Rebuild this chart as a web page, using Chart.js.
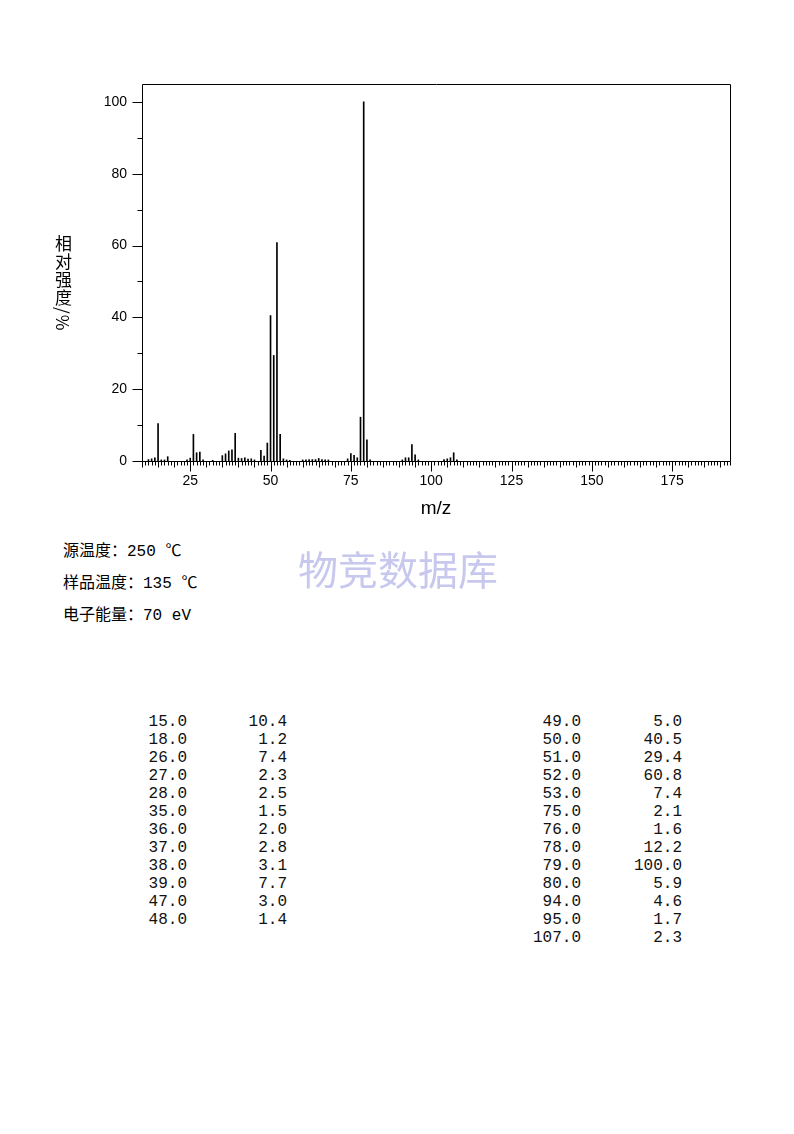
<!DOCTYPE html>
<html>
<head>
<meta charset="utf-8">
<script src="https://cdn.jsdelivr.net/npm/chart.js@4"></script>
<style>
  body { margin: 0; background: #fff; }
  #page { position: relative; width: 794px; height: 1134px; overflow: hidden; background: #fff; }
  #chartBox { position: absolute; left: 0; top: 0; width: 794px; height: 540px; }
  .ytitle { position: absolute; left: 55px; top: 235px; writing-mode: vertical-rl; font: 17px "Noto Sans CJK SC", sans-serif; line-height: 17px; letter-spacing: 1px; color: #000; }
  .info { position: absolute; left: 63px; font: 16px "Liberation Mono", "Noto Sans CJK SC", monospace; color: #000; line-height: 20px; }
  .mark { position: absolute; left: 298px; top: 543px; font: 40px "Noto Sans CJK SC", sans-serif; color: rgb(200, 200, 238); line-height: 50px; }
  .cell { position: absolute; font: 16px "Liberation Mono", monospace; line-height: 18px; text-align: right; color: #111; white-space: pre; }
</style>
</head>
<body>
<div id="page">
  <div id="chartBox"><canvas id="grafica"></canvas></div>
  <div class="ytitle">相对强度/%</div>
  <div class="info" style="top:542px">源温度：250 ℃</div>
  <div class="info" style="top:574px">样品温度：135 ℃</div>
  <div class="info" style="top:606px">电子能量：70 eV</div>
  <div class="mark">物竞数据库</div>
  <div id="tabla"></div>
</div>
<script>
// picos de la tabla (m/z, intensidad relativa)
var tablaMz = [15, 18, 26, 27, 28, 35, 36, 37, 38, 39, 47, 48,
               49, 50, 51, 52, 53, 75, 76, 78, 79, 80, 94, 95, 107];
var tablaInt = [10.4, 1.2, 7.4, 2.3, 2.5, 1.5, 2.0, 2.8, 3.1, 7.7, 3.0, 1.4,
                5.0, 40.5, 29.4, 60.8, 7.4, 2.1, 1.6, 12.2, 100.0, 5.9, 4.6, 1.7, 2.3];
// picos pequenos que solo salen en la grafica
var menoresMz = [12, 13, 14, 16, 17, 24, 25, 29, 32, 40, 41, 42, 43, 44, 45, 54, 55, 56,
                 60, 61, 62, 63, 64, 65, 66, 67, 68, 74, 77, 81, 91, 92, 93, 96, 104, 105, 106, 108];
var menoresInt = [0.4, 0.6, 0.9, 0.3, 0.3, 0.3, 0.8, 0.3, 0.2, 0.8, 0.7, 0.9, 0.5, 0.6, 0.3, 0.6, 0.3, 0.2,
                  0.3, 0.3, 0.4, 0.4, 0.4, 0.7, 0.4, 0.3, 0.3, 0.6, 0.9, 0.3, 0.3, 0.9, 0.9, 0.3, 0.4, 0.6, 0.9, 0.3];
var xEtiquetas = [25, 50, 75, 100, 125, 150, 175];
var yEtiquetas = [0, 20, 40, 60, 80, 100];
var xMin = 10, xMax = 193, yMax = 105;

// tabla de texto
var tabla = document.getElementById("tabla");
function celda(txt, right, width, y) {
    var d = document.createElement("div");
    d.className = "cell";
    d.style.left = (right - width) + "px";
    d.style.width = width + "px";
    d.style.top = y + "px";
    d.textContent = txt;
    tabla.appendChild(d);
}
for (var i = 0; i < tablaMz.length; i++) {
    var izq = i < 12;
    var fila = izq ? i : i - 12;
    var filaY = 713 + fila * 18;
    celda(tablaMz[i].toFixed(1), izq ? 187 : 581, 60, filaY);
    celda(tablaInt[i].toFixed(1), izq ? 287 : 682, 60, filaY);
}

var puntos = [];
for (var i = 0; i < tablaMz.length; i++) puntos.push({x: tablaMz[i], y: tablaInt[i]});
for (var i = 0; i < menoresMz.length; i++) puntos.push({x: menoresMz[i], y: menoresInt[i]});

// marco y marcas de los ejes
var marcas = {
    id: "marcas",
    afterDraw: function(chart) {
        var ctx = chart.ctx, a = chart.chartArea;
        var sx = chart.scales.x, sy = chart.scales.y;
        ctx.save();
        ctx.strokeStyle = "#000";
        ctx.lineWidth = 1;
        var L = Math.round(a.left) + 0.5, R = Math.round(a.right) + 0.5;
        var T = Math.round(a.top) + 0.5, B = Math.round(a.bottom) + 0.5;
        ctx.beginPath();
        ctx.rect(L, T, R - L, B - T);
        for (var m = xMin; m <= xMax; m++) {
            var px = Math.round(sx.getPixelForValue(m)) + 0.5;
            var len = m % 25 === 0 ? 10 : (m % 5 === 0 ? 6 : 4);
            ctx.moveTo(px, B);
            ctx.lineTo(px, B + len);
        }
        for (var v = 0; v <= 100; v += 10) {
            var py = Math.round(sy.getPixelForValue(v)) + 0.5;
            var l2 = v % 20 === 0 ? 10 : 5;
            ctx.moveTo(L, py);
            ctx.lineTo(L - l2, py);
        }
        ctx.stroke();
        ctx.restore();
    }
};

document.addEventListener("DOMContentLoaded", function() {
    var ctx = document.getElementById("grafica").getContext("2d");
    var grafica = new Chart(ctx, {
        type: "bar",
        data: {
            datasets: [{
                label: "Intensidad",
                data: puntos,
                backgroundColor: "#000",
                borderWidth: 0,
                barThickness: 1,
                grouped: false
            }]
        },
        options: {
            responsive: true,
            maintainAspectRatio: false,
            animation: false,
            layout: { padding: { left: 52, right: 64, top: 84, bottom: 9 } },
            plugins: {
                legend: { display: false },
                tooltip: { enabled: false }
            },
            scales: {
                x: {
                    type: "linear",
                    min: xMin,
                    max: xMax,
                    offset: false,
                    grid: { display: false },
                    border: { display: false },
                    afterBuildTicks: function(s) {
                        s.ticks = xEtiquetas.map(function(v) { return {value: v}; });
                    },
                    afterFit: function(s) { s.height = 70; },
                    ticks: {
                        autoSkip: false,
                        maxRotation: 0,
                        padding: 4,
                        color: "#000",
                        font: { family: "Liberation Sans", size: 14 }
                    },
                    title: {
                        display: true,
                        text: "m/z",
                        color: "#000",
                        font: { family: "Liberation Sans", size: 19 },
                        padding: { top: 0, bottom: 11 }
                    }
                },
                y: {
                    min: 0,
                    max: yMax,
                    grid: { display: false },
                    border: { display: false },
                    afterBuildTicks: function(s) {
                        s.ticks = yEtiquetas.map(function(v) { return {value: v}; });
                    },
                    afterFit: function(s) { s.width = 90; },
                    ticks: {
                        padding: 7,
                        color: "#000",
                        font: { family: "Liberation Sans", size: 14 }
                    }
                }
            }
        },
        plugins: [marcas]
    });
});
</script>
</body>
</html>
